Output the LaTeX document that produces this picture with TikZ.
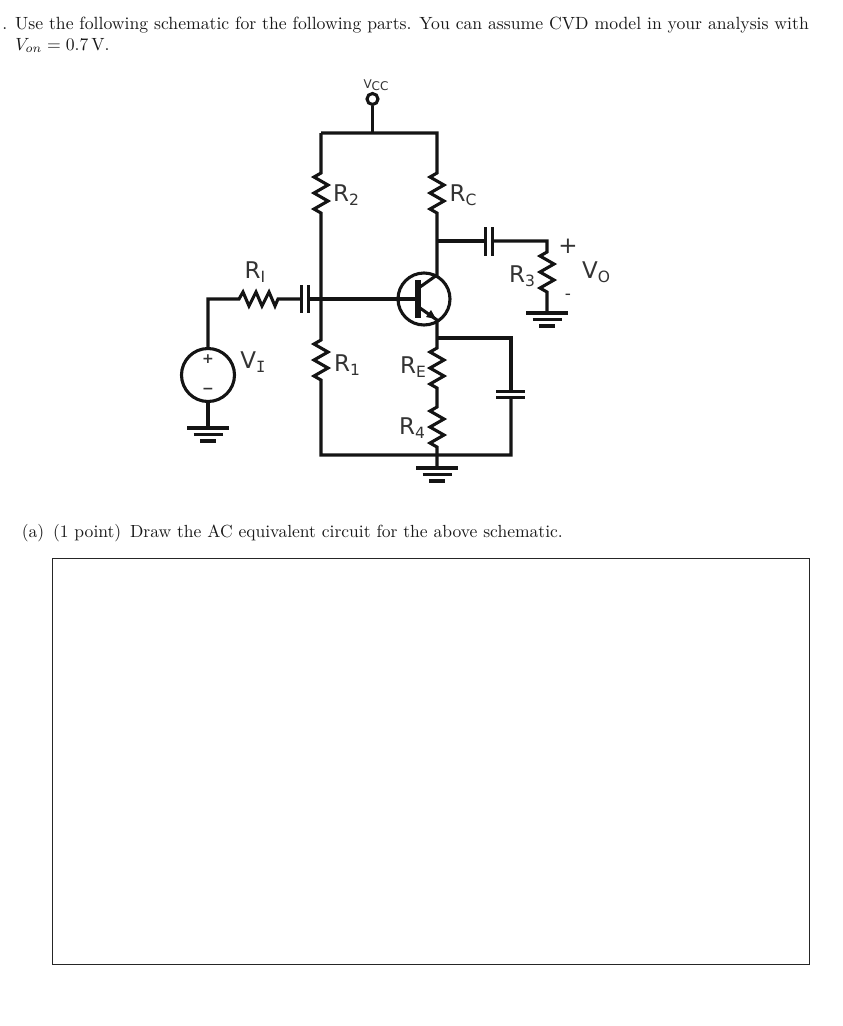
\documentclass[tikz,border=0pt]{standalone}
\usepackage{fontspec}
\usetikzlibrary{positioning,calc}
\newfontfamily\schfont{DejaVu Sans}
\newfontfamily\schmono{DejaVu Sans Mono}
\newcommand{\zigv}{-- ++(-7,4) -- ++(14,8) -- ++(-14,8) -- ++(14,8) -- ++(-14,8) -- ++(7,4)}
\newcommand{\zigh}{-- ++(4,-7) -- ++(6,14) -- ++(7,-14) -- ++(6,14) -- ++(7,-14) -- ++(6,14) -- ++(3,-7)}
\newcommand{\lbl}[2]{\fontsize{23}{23}\selectfont #1\raisebox{-3.5pt}{\fontsize{15.5}{15.5}\selectfont #2}}
\begin{document}
\begin{tikzpicture}[
  x=1pt,y=-1pt,
  line join=miter,
  wire/.style={line width=3.1pt,black!92},
  plate/.style={line width=3pt,black!92},
  rlabel/.style={font=\schfont,text=black!80,inner sep=0pt},
  sheettext/.style={scale=1.767,anchor=base west,inner sep=0pt,text=black!90},
]
\useasboundingbox (0,0) rectangle (843,1026);

\node[sheettext] (line1) at (2,29) {. Use the following schematic for the following parts. You can assume CVD model in your analysis with};
\node[sheettext] (line2) at (15,50) {$V_{on}=0.7\,\mathrm{V}$.};
\node[sheettext,scale=0.993] (parta) at (21.5,537) {(a)\enspace(1 point)\enspace Draw the AC equivalent circuit for the above schematic.};
\node[draw=black!85,line width=1pt,minimum width=757pt,minimum height=406pt,inner sep=0pt,anchor=north west] (answer) at (52,558) {};

\node[circle,draw=black!92,line width=3.1pt,minimum size=11pt,inner sep=0pt] (tvcc) at (372.5,99) {};
\node[circle,draw=black!92,line width=3.1pt,minimum size=52pt,inner sep=0pt] (qcirc) at (424,299) {};
\node[circle,draw=black!92,line width=3.1pt,minimum size=53pt,inner sep=0pt] (vsrc) at (208,375) {};

\coordinate (topc) at (372.5,133);
\coordinate (topl) at (321,133);
\coordinate (topr) at (437,133);
\coordinate (r2a) at (321,173);
\coordinate (r1a) at (321,340);
\coordinate (botl) at (321,455);
\coordinate (botr) at (511,455);
\coordinate (gnde) at (437,468);
\coordinate (rca) at (437,173);
\coordinate (cout) at (437,241);
\coordinate (qcol) at (437,275);
\coordinate (qem) at (437,320);
\coordinate (emit) at (437,338);
\coordinate (rea) at (437,348);
\coordinate (r4a) at (437,407);
\coordinate (bypr) at (511,338);
\coordinate (byt) at (511,391);
\coordinate (byb) at (511,397);
\coordinate (co1) at (485,241);
\coordinate (co2) at (492,241);
\coordinate (outr) at (547,241);
\coordinate (r3a) at (547,252);
\coordinate (gndo) at (547,313);
\coordinate (srct) at (208,299);
\coordinate (gnds) at (208,428);
\coordinate (ria) at (239,299);
\coordinate (ci1) at (301,299);
\coordinate (ci2) at (308,299);
\coordinate (base) at (415,299);
\coordinate (qc2) at (420,287);
\coordinate (qe2) at (420,308);

\draw[wire] (tvcc) -- (topc);
\draw[wire] (topl) -- (r2a) \zigv -- (r1a) \zigv -- (botl) -- (botr) -- (byb);
\draw[wire] (topl) -- (topr) -- (rca) \zigv -- (qcol) -- (qc2);
\draw[wire] (byt) -- (bypr) -- (emit);
\draw[wire] (qe2) -- (qem) -- (rea) \zigv -- (r4a) \zigv -- (gnde);
\draw[wire] (cout) -- (co1);
\draw[wire] (co2) -- (outr) -- (r3a) \zigv -- (gndo);
\draw[wire] (vsrc) -- (srct) -- (ria) \zigh -- (ci1);
\draw[wire] (ci2) -- (base);
\draw[wire] (vsrc) -- (gnds);
\draw[line width=6pt,black!92] (418,280) -- (418,318);
\fill[black!92] (436,319) -- (426,317) -- (431,310) -- cycle;

\draw[plate] ($(ci1)+(0,-14)$) -- ($(ci1)+(0,14)$);
\draw[plate] ($(ci2)+(0,-14)$) -- ($(ci2)+(0,14)$);
\draw[plate] ($(co1)+(0,-14)$) -- ($(co1)+(0,15)$);
\draw[plate] ($(co2)+(0,-14)$) -- ($(co2)+(0,15)$);
\draw[plate] ($(byt)+(-15,0)$) -- ($(byt)+(14,0)$);
\draw[plate] ($(byb)+(-15,0)$) -- ($(byb)+(14,0)$);

\foreach \g in {gnds,gnde,gndo} {
  \draw[wire] ($(\g)+(-21,0)$) -- ($(\g)+(21,0)$);
  \draw[wire] ($(\g)+(-14.5,6.5)$) -- ($(\g)+(14.5,6.5)$);
  \draw[wire] ($(\g)+(-8,13)$) -- ($(\g)+(8,13)$);
}

\node[rlabel] (lvcc) at (376,85) {\fontsize{12}{12}\selectfont V\raisebox{-2pt}{CC}};
\node[rlabel] (lr2) at (346,195) {\lbl{R}{2}};
\node[rlabel] (lrc) at (463,195) {\lbl{R}{C}};
\node[rlabel] (lri) at (255,272) {\lbl{R}{I}};
\node[rlabel] (lr3) at (522,276) {\lbl{R}{3}};
\node[rlabel] (lvo) at (596,272) {\lbl{V}{O}};
\node[rlabel] (lplus) at (568,246) {\fontsize{23}{23}\selectfont +};
\node[rlabel] (lminus) at (568,297) {\fontsize{17}{17}\selectfont -};
\node[rlabel] (lvi) at (253,362) {\fontsize{23}{23}\selectfont V\raisebox{-3.5pt}{\schmono\fontsize{15.5}{15.5}\selectfont I}};
\node[rlabel] (lr1) at (347,365) {\lbl{R}{1}};
\node[rlabel] (lre) at (413,367) {\lbl{R}{E}};
\node[rlabel] (lr4) at (412,428) {\lbl{R}{4}};
\node[rlabel] (lsp) at (208,359) {\fontsize{14}{14}\selectfont\bfseries +};
\node[rlabel] (lsm) at (208,391) {\fontsize{14}{14}\selectfont\bfseries −};

\end{tikzpicture}
\end{document}
